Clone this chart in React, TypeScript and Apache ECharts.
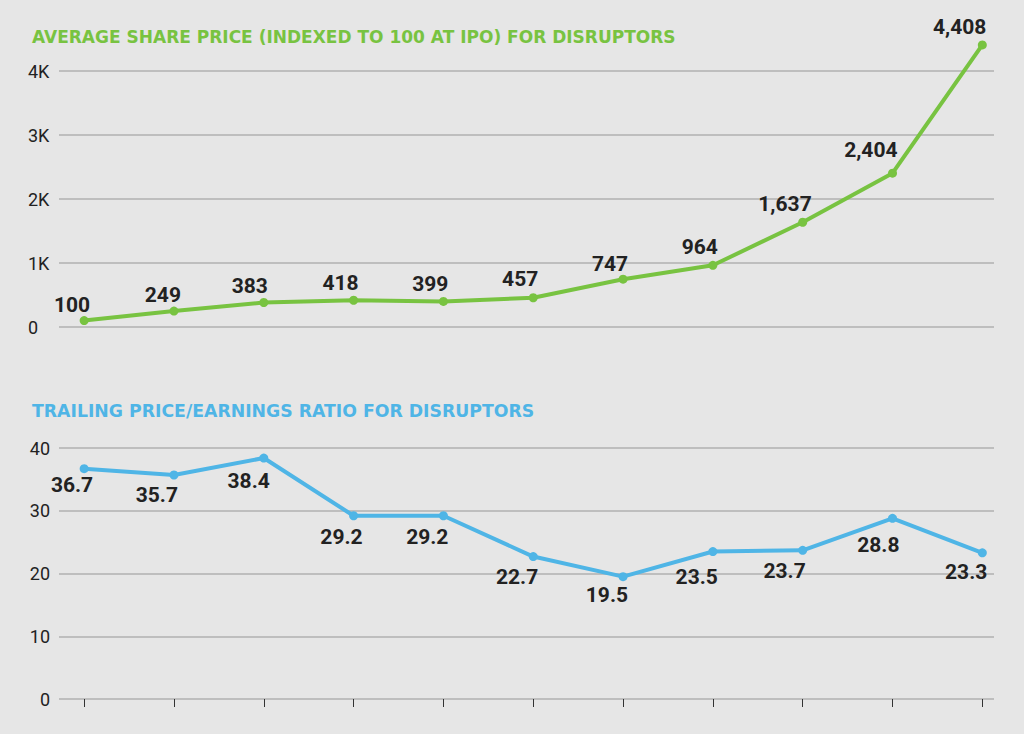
import React, { useEffect, useRef } from "react";
import * as echarts from "echarts";

const periods = [0, 1, 2, 3, 4, 5, 6, 7, 8, 9, 10];
const sharePrice = [100, 249, 383, 418, 399, 457, 747, 964, 1637, 2404, 4408];
const peRatio = [36.7, 35.7, 38.4, 29.2, 29.2, 22.7, 19.5, 23.5, 23.7, 28.8, 23.3];
const priceTicks = [0, 1000, 2000, 3000, 4000];
const peTicks = [0, 10, 20, 30, 40];

// label placement (right edge dx, vertical centre dy) relative to each point
const priceLabelOffsets = [
  [6, -16], [7, -16], [4, -16], [5, -17], [5, -17.5], [5, -18.5],
  [5, -15.5], [5, -18], [9, -18], [5, -23.5], [4, -18],
];
const peLabelOffsets = [
  [9, 16], [4, 20.5], [6, 23], [9, 21], [5, 21], [5, 20],
  [5, 18], [5, 25], [3, 21], [7, 26.5], [5, 19],
];

const GREEN = "#78c341";
const BLUE = "#4fb5e6";
const INK = "#222222";
const GRID = "#b0b0b0";
const FONT = "Roboto, 'Noto Sans', sans-serif";
const TITLE_FONT = "'DejaVu Sans', 'Open Sans', sans-serif";

export default function App() {
  const ref = useRef<HTMLDivElement>(null);
  useEffect(() => {
    if (!ref.current) return;
    const chart = echarts.init(ref.current, undefined, { renderer: "svg" });
    const fmtPrice = (v: number) => v.toLocaleString("en-US");
    const labelBase = {
      show: true,
      position: "inside",
      align: "right",
      verticalAlign: "middle",
      color: INK,
      fontFamily: FONT,
      fontWeight: "bold",
      fontSize: 21,
    };
    chart.setOption({
      animation: false,
      backgroundColor: "#e6e6e6",
      title: [
        {
          text: "AVERAGE SHARE PRICE (INDEXED TO 100 AT IPO) FOR DISRUPTORS",
          left: 27,
          top: 23,
          textStyle: { color: GREEN, fontFamily: TITLE_FONT, fontWeight: "bold", fontSize: 17 },
        },
        {
          text: "TRAILING PRICE/EARNINGS RATIO FOR DISRUPTORS",
          left: 27,
          top: 397,
          textStyle: { color: BLUE, fontFamily: TITLE_FONT, fontWeight: "bold", fontSize: 17.3 },
        },
      ],
      grid: [
        { left: 59, right: 30, top: 71, height: 256 },
        { left: 59, right: 30, top: 448, height: 251 },
      ],
      xAxis: [
        {
          gridIndex: 0,
          type: "value",
          min: -0.28,
          max: 10.13,
          axisLine: { show: false },
          axisTick: { show: false },
          axisLabel: { show: false },
          splitLine: { show: false },
        },
        {
          gridIndex: 1,
          type: "value",
          min: -0.28,
          max: 10.13,
          axisLine: { show: false },
          axisTick: {
            show: true,
            customValues: periods,
            length: 8,
            lineStyle: { color: "#333", width: 1 },
          },
          axisLabel: { show: false },
          splitLine: { show: false },
        },
      ],
      yAxis: [
        {
          gridIndex: 0,
          type: "value",
          min: priceTicks[0],
          max: priceTicks[priceTicks.length - 1],
          interval: 1000,
          axisLine: { show: false },
          axisTick: { show: false },
          axisLabel: {
            align: "left",
            margin: 31,
            color: INK,
            fontFamily: FONT,
            fontSize: 18,
            formatter: (v: number) => (v === 0 ? "0" : v / 1000 + "K"),
          },
          splitLine: { lineStyle: { color: GRID, width: 1.5 } },
        },
        {
          gridIndex: 1,
          type: "value",
          min: peTicks[0],
          max: peTicks[peTicks.length - 1],
          interval: 10,
          axisLine: { show: false },
          axisTick: { show: false },
          axisLabel: {
            margin: 9,
            color: INK,
            fontFamily: FONT,
            fontSize: 18,
          },
          splitLine: { lineStyle: { color: GRID, width: 1.5 } },
        },
      ],
      series: [
        {
          type: "line",
          xAxisIndex: 0,
          yAxisIndex: 0,
          clip: false,
          symbol: "circle",
          symbolSize: 9,
          lineStyle: { color: GREEN, width: 4 },
          itemStyle: { color: GREEN },
          data: sharePrice.map((v, i) => ({
            value: [periods[i], v],
            label: { ...labelBase, offset: priceLabelOffsets[i], formatter: fmtPrice(v) },
          })),
          z: 3,
        },
        {
          type: "line",
          xAxisIndex: 1,
          yAxisIndex: 1,
          clip: false,
          symbol: "circle",
          symbolSize: 9,
          lineStyle: { color: BLUE, width: 4 },
          itemStyle: { color: BLUE },
          data: peRatio.map((v, i) => ({
            value: [periods[i], v],
            label: { ...labelBase, offset: peLabelOffsets[i], formatter: v.toFixed(1) },
          })),
          z: 3,
        },
      ],
    });
    return () => chart.dispose();
  }, []);
  return (
    <div
      ref={ref}
      style={{ position: "absolute", left: 0, top: 0, width: 1024, height: 734 }}
    />
  );
}
